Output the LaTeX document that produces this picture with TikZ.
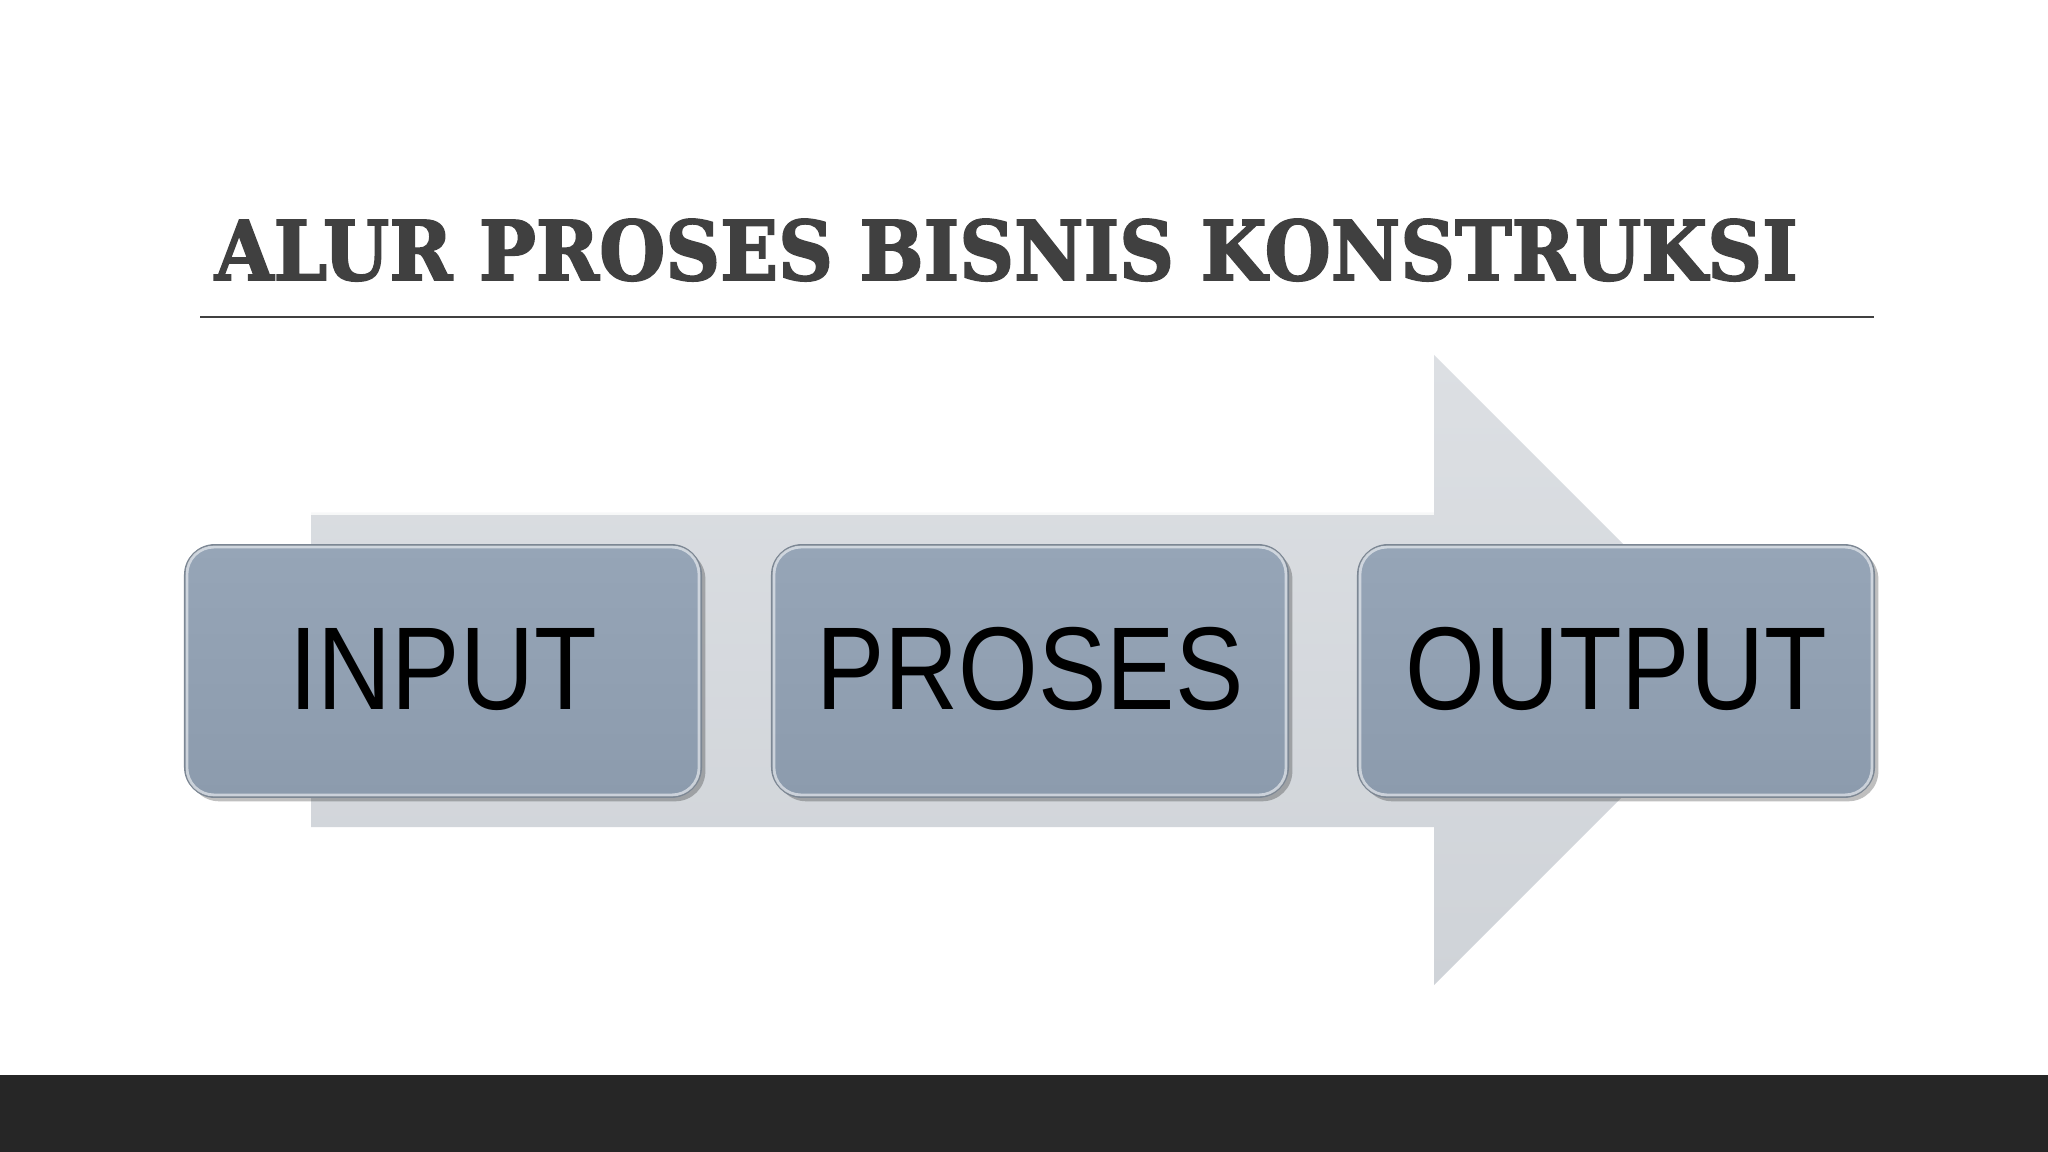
\documentclass[tikz,border=0pt]{standalone}
\usepackage{fontspec}
\setmainfont{Liberation Sans}
\newfontfamily\titlefont{DejaVu Serif}[BoldFeatures={FakeBold=2.2}]
\usetikzlibrary{shadows}
\definecolor{titlegray}{HTML}{404040}
\definecolor{boxtop}{HTML}{96A5B7}
\definecolor{boxbot}{HTML}{8C9BAD}
\definecolor{boxedge}{HTML}{7C8794}
\definecolor{arrowtop}{HTML}{DCDFE3}
\definecolor{arrowbot}{HTML}{CFD3D8}
\definecolor{bandcol}{HTML}{262626}
\newcommand{\boxlabel}[1]{\raisebox{0.05cm}{\scalebox{0.87}[1]{#1}}}
\begin{document}
\begin{tikzpicture}[x=0.01cm,y=-0.01cm,
  stepbox/.style={rounded corners=0.3cm, minimum width=5.16cm, minimum height=2.52cm,
    top color=boxtop, bottom color=boxbot, draw=boxedge, line width=0.5pt,
    font=\fontsize{33.5}{33.5}\selectfont, text=black, inner sep=0pt,
    drop shadow={shadow xshift=1.2pt, shadow yshift=-1.2pt, fill=black, opacity=0.25}},
  gloss/.style={draw=white, opacity=0.55, line width=0.8pt, rounded corners=0.27cm},
]
\fill[white] (0,0) rectangle (2048,1152);
\useasboundingbox (0,0) rectangle (2048,1152);
% title
\node[anchor=base west, inner sep=0pt, text=titlegray] (title) at (214,280)
  {\resizebox{15.82cm}{0.61cm}{\titlefont\bfseries ALUR PROSES BISNIS KONSTRUKSI}};
\coordinate (rulel) at (200,317);
\coordinate (ruler) at (1874,317);
\draw[titlegray, line width=0.8pt] (rulel) -- (ruler);
% big arrow
\shade[top color=arrowtop, bottom color=arrowbot]
  (311,513) -- (1434,513) -- (1434,355) -- (1749,670) -- (1434,985) -- (1434,827) -- (311,827) -- cycle;
\draw[white, opacity=0.8, line width=0.8pt] (311,514) -- (1434,514);
% boxes
\node[stepbox] (in) at (443,671) {\boxlabel{INPUT}};
\node[stepbox] (pr) at (1030,671) {\boxlabel{PROSES}};
\node[stepbox] (out) at (1616,671) {\boxlabel{OUTPUT}};
\foreach \n in {in,pr,out}{
  \draw[gloss] ([shift={(3,3)}]\n.north west) rectangle ([shift={(-3,-3)}]\n.south east);
}
% bottom band
\fill[bandcol] (0,1075) rectangle (2048,1152);
\end{tikzpicture}
\end{document}
